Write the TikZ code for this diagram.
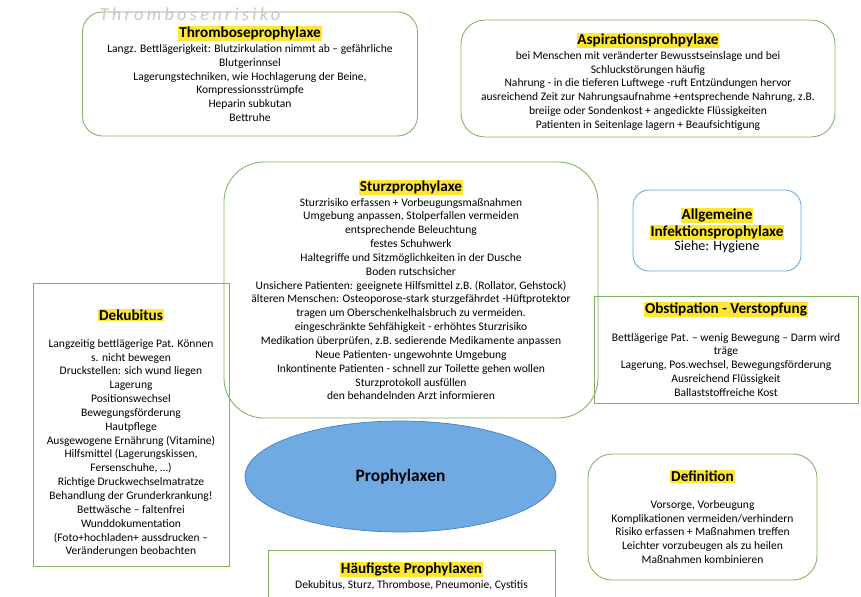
\documentclass[tikz,border=0pt]{standalone}
\usepackage{fontspec}
\setmainfont{Carlito}
\usepackage{tikz}
\usetikzlibrary{shapes.geometric}
\definecolor{boxgreen}{RGB}{128,178,98}
\definecolor{hlyellow}{RGB}{255,230,50}
\definecolor{infoblue}{RGB}{110,165,215}
\definecolor{ovalfill}{RGB}{112,170,226}
\definecolor{ovaldraw}{RGB}{70,128,195}
\newcommand{\titlefont}{\fontsize{10.8}{12}\selectfont}
\newcommand{\hltitle}[1]{{\setlength{\fboxsep}{0.6pt}\colorbox{hlyellow}{\titlefont\bfseries #1}}}

\tikzset{
  boxtext/.style={align=center, font=\fontsize{8.2}{9.85}\selectfont, inner sep=0pt},
  greenbox/.style={boxtext, draw=boxgreen, line width=0.6pt},
  roundbox/.style={greenbox, rounded corners=#1},
  oval/.style={ellipse, draw=ovaldraw, fill=ovalfill, line width=0.5pt,
    font=\fontsize{12.4}{14}\selectfont\bfseries}
}

\begin{document}
\begin{tikzpicture}
    \fill[white] (0,0) rectangle (21.525,-14.925);
    \useasboundingbox (0,0) rectangle (21.525,-14.925);

    % Thrombose
    \node[roundbox=0.5cm, minimum width=8.375cm, minimum height=3.1cm] (thrombo) at (6.25,-1.85) {%
        \hltitle{Thromboseprophylaxe}\\[0.5pt]
        Langz. Bettlägerigkeit: Blutzirkulation nimmt ab – gefährliche\\
        Blutgerinnsel\\
        Lagerungstechniken, wie Hochlagerung der Beine,\\
        Kompressionsstrümpfe\\
        Heparin subkutan\\
        Bettruhe};

    % pencil note
    \node[text=black!22, font=\fontsize{13}{14}\selectfont\itshape\addfontfeature{LetterSpace=18}] (hand) at (4.75,-0.36) {Thrombosenrisiko};

    % Aspiration
    \node[roundbox=0.6cm, minimum width=9.35cm, minimum height=2.925cm] (aspir) at (16.2,-1.9625) {%
        \mbox{}\\[3pt]
        \hltitle{Aspirationsprohpylaxe}\\[0.5pt]
        bei Menschen mit veränderter Bewusstseinslage und bei\\
        Schluckstörungen häufig\\
        Nahrung - in die tieferen Luftwege -ruft Entzündungen hervor\\
        ausreichend Zeit zur Nahrungsaufnahme +entsprechende Nahrung, z.B.\\
        breiige oder Sondenkost + angedickte Flüssigkeiten\\
        Patienten in Seitenlage lagern + Beaufsichtigung};

    % Sturz
    \node[roundbox=1cm, minimum width=9.35cm, minimum height=6.4cm] (sturz) at (10.275,-7.25) {%
        \hltitle{Sturzprophylaxe}\\[0.5pt]
        Sturzrisiko erfassen + Vorbeugungsmaßnahmen\\
        Umgebung anpassen, Stolperfallen vermeiden\\
        entsprechende Beleuchtung\\
        festes Schuhwerk\\
        Haltegriffe und Sitzmöglichkeiten in der Dusche\\
        Boden rutschsicher\\
        Unsichere Patienten: geeignete Hilfsmittel z.B. (Rollator, Gehstock)\\
        älteren Menschen: Osteoporose-stark sturzgefährdet -Hüftprotektor\\
        tragen um Oberschenkelhalsbruch zu vermeiden.\\
        eingeschränkte Sehfähigkeit - erhöhtes Sturzrisiko\\
        Medikation überprüfen, z.B. sedierende Medikamente anpassen\\
        Neue Patienten- ungewohnte Umgebung\\
        Inkontinente Patienten - schnell zur Toilette gehen wollen\\
        Sturzprotokoll ausfüllen\\
        den behandelnden Arzt informieren};

    % Infektion
    \node[roundbox=0.4cm, draw=infoblue, minimum width=4.2cm, minimum height=2.025cm] (infekt) at (17.925,-5.7625) {%
        \hltitle{Allgemeine}\\
        \hltitle{Infektionsprophylaxe}\\
        {\fontsize{10}{12}\selectfont Siehe: Hygiene}};

    % Obstipation
    \node[greenbox, minimum width=6.6cm, minimum height=2.675cm] (obsti) at (18.15,-8.7375) {%
        \hltitle{Obstipation - Verstopfung}\\[9.5pt]
        Bettlägerige Pat. – wenig Bewegung – Darm wird\\
        träge\\
        Lagerung, Pos.wechsel, Bewegungsförderung\\
        Ausreichend Flüssigkeit\\
        Ballaststoffreiche Kost};

    % Dekubitus
    \node[greenbox, minimum width=4.9cm, minimum height=7.075cm] (dekub) at (3.275,-10.6125) {%
        \mbox{}\\[10pt]
        \hltitle{Dekubitus}\\[9.5pt]
        Langzeitig bettlägerige Pat. Können\\
        s. nicht bewegen\\
        Druckstellen: sich wund liegen\\
        Lagerung\\
        Positionswechsel\\
        Bewegungsförderung\\
        Hautpflege\\
        Ausgewogene Ernährung (Vitamine)\\
        Hilfsmittel (Lagerungskissen,\\
        Fersenschuhe, …)\\
        Richtige Druckwechselmatratze\\
        Behandlung der Grunderkrankung!\\
        Bettwäsche – faltenfrei\\
        Wunddokumentation\\
        (Foto+hochladen+ aussdrucken –\\
        Veränderungen beobachten};

    % Mitte
    \node[oval, minimum width=7.775cm, minimum height=2.775cm] (prophy) at (10.0125,-11.9125) {Prophylaxen};

    % Definition
    \node[roundbox=0.6cm, minimum width=5.725cm, minimum height=3.15cm] (defin) at (17.5625,-12.925) {%
        \hltitle{Definition}\\[9pt]
        Vorsorge, Vorbeugung\\
        Komplikationen vermeiden/verhindern\\
        Risiko erfassen + Maßnahmen treffen\\
        Leichter vorzubeugen als zu heilen\\
        Maßnahmen kombinieren};

    % Haeufigste
    \node[greenbox, minimum width=7.175cm, minimum height=1.3cm] (haeufig) at (10.2875,-14.4) {%
        \hltitle{Häufigste Prophylaxen}\\[0.5pt]
        Dekubitus, Sturz, Thrombose, Pneumonie, Cystitis};
\end{tikzpicture}
\end{document}
